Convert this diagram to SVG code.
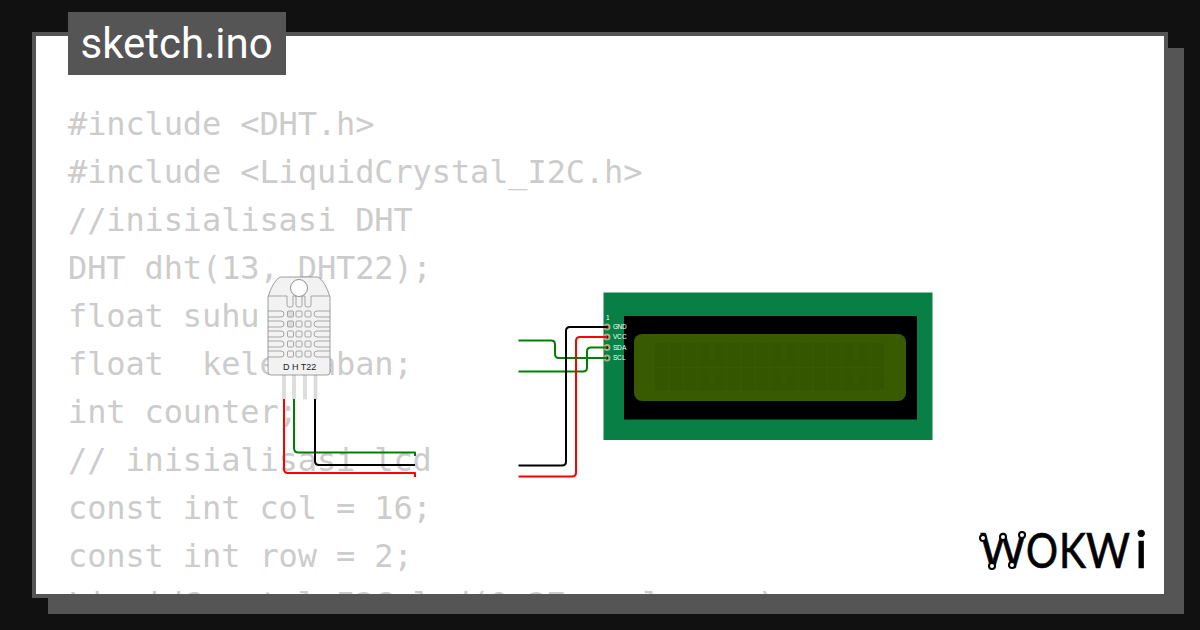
<svg xmlns="http://www.w3.org/2000/svg" width="1200" height="630" viewBox="0 0 1200 630">
<style>
.code{font-family:"DejaVu Sans Mono","Liberation Mono",monospace;font-size:32px;fill:#ccc;letter-spacing:-.12px}
.w{fill:none;stroke-width:2;stroke-linecap:butt;stroke-linejoin:round}
.dht{fill:none;stroke:#888;stroke-width:.7}
.pinl{font-family:"Liberation Sans",Arial,sans-serif;font-size:6.500px;fill:#fff}
.cell{fill:#355600}
.pin{fill:#111;stroke:#b8aa80;stroke-width:2}
.dot{fill:#fff;stroke:#000;stroke-width:2}
.logo{font-family:"Lato","Open Sans",sans-serif;font-size:48px;fill:#000;stroke:#000;stroke-width:.7;font-weight:400}
</style>
<defs><clipPath id="panel"><rect x="36" y="36" width="1128" height="558"/></clipPath></defs>
<rect width="1200" height="630" fill="#111"/>
<rect x="48" y="48" width="1136" height="566" fill="#555"/>
<rect x="34" y="34" width="1132" height="562" fill="#fff" stroke="#555" stroke-width="4"/>
<g id="code" clip-path="url(#panel)">
<text class="code" x="68" y="135">#include &lt;DHT.h&gt;</text>
<text class="code" x="68" y="183">#include &lt;LiquidCrystal_I2C.h&gt;</text>
<text class="code" x="68" y="231">//inisialisasi DHT</text>
<text class="code" x="68" y="279">DHT dht(13, DHT22);</text>
<text class="code" x="68" y="327">float suhu ;</text>
<text class="code" x="68" y="375" xml:space="preserve">float  kelembaban;</text>
<text class="code" x="68" y="423">int counter;</text>
<text class="code" x="68" y="471">// inisialisasi lcd</text>
<text class="code" x="68" y="519">const int col = 16;</text>
<text class="code" x="68" y="567">const int row = 2;</text>
<text class="code" x="68" y="615">LiquidCrystal_I2C lcd(0x27, col, row);</text>
</g>
<g id="title">
<rect x="68" y="12" width="218" height="63" fill="#555"/>
<text x="80.500" y="58" font-family="Roboto,sans-serif" font-size="42" fill="#fff">sketch.ino</text>
</g>
<g id="dht22">
<g fill="#ddd" stroke="#ccc" stroke-width=".5">
<rect x="282.500" y="375" width="3" height="24"/><rect x="292.500" y="375" width="3" height="24"/><rect x="303.500" y="375" width="3" height="24"/><rect x="314" y="375" width="3" height="24"/>
</g>
<path d="M280 277H318Q325 281 330 297V372Q330 375 327 375H271Q268 375 268 372V297Q273 281 280 277Z" fill="#f2f2f2" stroke="#888" stroke-width=".8"/>
<circle cx="299" cy="288" r="8.500" fill="#fff" stroke="#777" stroke-width=".8"/>
<path class="dht" d="M268 296H287V305Q287 307 289 307H291Q293 307 293 305V296H296V305Q296 307 298 307H300Q302 307 302 305V296H305V305Q305 307 307 307H309Q311 307 311 305V296H330"/>
<g class="dht">
<path d="M268 311H281A3 3 0 0 1 281 317H268M268 321H281A3 3 0 0 1 281 327H268M268 331H281A3 3 0 0 1 281 337H268M268 341H281A3 3 0 0 1 281 347H268M268 351H281A3 3 0 0 1 281 357H268"/>
<path d="M330 311H317A3 3 0 0 0 317 317H330M330 321H317A3 3 0 0 0 317 327H330M330 331H317A3 3 0 0 0 317 337H330M330 341H317A3 3 0 0 0 317 347H330M330 351H317A3 3 0 0 0 317 357H330"/>
<rect x="287.500" y="311" width="6" height="6" rx="1" fill="#ddd"/><rect x="296" y="311" width="6" height="6" rx="1"/><rect x="305" y="311" width="6" height="6" rx="1"/>
<rect x="287.500" y="321" width="6" height="6" rx="1" fill="#ddd"/><rect x="296" y="321" width="6" height="6" rx="1"/><rect x="305" y="321" width="6" height="6" rx="1"/>
<rect x="287.500" y="331" width="6" height="6" rx="1"/><rect x="296" y="331" width="6" height="6" rx="1"/><rect x="305" y="331" width="6" height="6" rx="1"/>
<rect x="287.500" y="341" width="6" height="6" rx="1"/><rect x="296" y="341" width="6" height="6" rx="1"/><rect x="305" y="341" width="6" height="6" rx="1"/>
<rect x="287.500" y="351" width="6" height="6" rx="1"/><rect x="296" y="351" width="6" height="6" rx="1"/><rect x="305" y="351" width="6" height="6" rx="1"/>
</g>
<text x="283" y="370" font-family="Liberation Sans,Arial,sans-serif" font-size="9" fill="#222" xml:space="preserve">D H T22</text>
</g>
<g id="lcd">
<rect x="603.500" y="292.500" width="329" height="147.500" fill="#087f45"/>
<rect x="624" y="316" width="293" height="103.500" fill="#000"/>
<rect x="634" y="334" width="272" height="67" rx="8" fill="#385a00"/>
<g class="cell">
<rect x="655" y="343" width="13" height="24"/><rect x="669.400" y="343" width="13" height="24"/><rect x="683.800" y="343" width="13" height="24"/><rect x="698.200" y="343" width="13" height="24"/><rect x="712.600" y="343" width="13" height="24"/><rect x="727" y="343" width="13" height="24"/><rect x="741.400" y="343" width="13" height="24"/><rect x="755.800" y="343" width="13" height="24"/><rect x="770.200" y="343" width="13" height="24"/><rect x="784.600" y="343" width="13" height="24"/><rect x="799" y="343" width="13" height="24"/><rect x="813.400" y="343" width="13" height="24"/><rect x="827.800" y="343" width="13" height="24"/><rect x="842.200" y="343" width="13" height="24"/><rect x="856.600" y="343" width="13" height="24"/><rect x="871" y="343" width="13" height="24"/>
<rect x="655" y="368.500" width="13" height="22"/><rect x="669.400" y="368.500" width="13" height="22"/><rect x="683.800" y="368.500" width="13" height="22"/><rect x="698.200" y="368.500" width="13" height="22"/><rect x="712.600" y="368.500" width="13" height="22"/><rect x="727" y="368.500" width="13" height="22"/><rect x="741.400" y="368.500" width="13" height="22"/><rect x="755.800" y="368.500" width="13" height="22"/><rect x="770.200" y="368.500" width="13" height="22"/><rect x="784.600" y="368.500" width="13" height="22"/><rect x="799" y="368.500" width="13" height="22"/><rect x="813.400" y="368.500" width="13" height="22"/><rect x="827.800" y="368.500" width="13" height="22"/><rect x="842.200" y="368.500" width="13" height="22"/><rect x="856.600" y="368.500" width="13" height="22"/><rect x="871" y="368.500" width="13" height="22"/>
</g>
<circle class="pin" cx="607" cy="327" r="2.500"/><circle class="pin" cx="607" cy="337" r="2.500"/><circle class="pin" cx="607" cy="347.500" r="2.500"/><circle class="pin" cx="607" cy="358" r="2.500"/>
<text class="pinl" x="606" y="320">1</text>
<text class="pinl" x="613 617.500 622" y="329">GND</text>
<text class="pinl" x="613 617 622" y="339">VCC</text>
<text class="pinl" x="613 617 622" y="349.500">SDA</text>
<text class="pinl" x="613 617 622" y="360">SCL</text>
</g>
<g id="connectors">
<path class="w" stroke="#f00" d="M284 399V469Q284 473 288 473H415V477"/>
<path class="w" stroke="#008000" d="M294 399V448Q294 452.500 298.500 452.500H415V456"/>
<path class="w" stroke="#000" d="M315 399V461Q315 465 319 465H415"/>
<path class="w" stroke="#008000" d="M518.500 340.500H551Q555 340.500 555 344.500V354Q555 358 559 358H607"/>
<path class="w" stroke="#008000" d="M518.500 371.500H583Q587 371.500 587 367.500V351.500Q587 347.500 591 347.500H607"/>
<path class="w" stroke="#000" d="M518.500 465.500H562Q566 465.500 566 461.500V331Q566 327 570 327H607"/>
<path class="w" stroke="#f00" d="M518.500 476.500H572Q576 476.500 576 472.500V341Q576 337 580 337H607"/>
</g>
<g id="wokwi">
<text class="logo" x="980" y="568" textLength="46" lengthAdjust="spacingAndGlyphs">W</text>
<text class="logo" x="1026" y="568" textLength="32" lengthAdjust="spacingAndGlyphs">O</text>
<text class="logo" x="1059" y="568" textLength="27" lengthAdjust="spacingAndGlyphs">K</text>
<text class="logo" x="1086" y="568" textLength="44" lengthAdjust="spacingAndGlyphs">W</text>
<text class="logo" x="1135" y="568" style="font-size:52px">i</text>
<circle class="dot" cx="983" cy="538" r="3"/><circle class="dot" cx="1003" cy="537" r="3"/><circle class="dot" cx="1022" cy="535" r="3"/><circle class="dot" cx="992" cy="566" r="3"/><circle class="dot" cx="1012" cy="565" r="3"/>
</g>
</svg>
